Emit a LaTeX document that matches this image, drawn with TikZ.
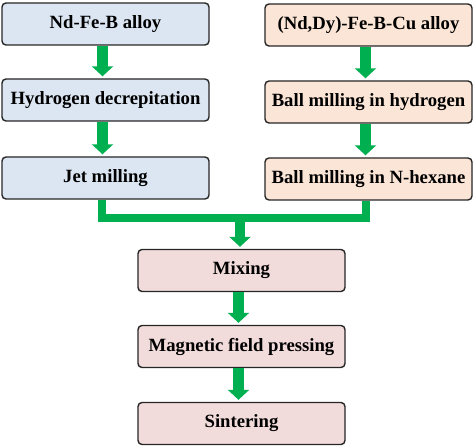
\documentclass[tikz,border=0pt]{standalone}
\usepackage{fontspec}
\setmainfont{Liberation Serif}
\usetikzlibrary{arrows.meta}
\definecolor{boxblue}{HTML}{DCE6F2}
\definecolor{boxpeach}{HTML}{FBE5D6}
\definecolor{boxpink}{HTML}{F2DCDB}
\definecolor{flowgreen}{HTML}{00B050}
\tikzset{
  stepbox/.style={draw=black!85,line width=1.4pt,rounded corners=4pt,minimum width=207pt,minimum height=42pt,inner sep=0pt,font=\fontsize{18.7}{20}\selectfont\bfseries},
  flowarrow/.style={draw=flowgreen,line width=10.5pt,-{Triangle[width=21pt,length=10pt]},shorten >=2pt},
  mergeline/.style={draw=flowgreen,line width=8pt,miter limit=10}
}
\begin{document}
\begin{tikzpicture}[x=1pt,y=-1pt]
\useasboundingbox (0,0) rectangle (474,446);

\node[stepbox,fill=boxblue] (ndfeb) at (105.5,24) {Nd-Fe-B alloy};
\node[stepbox,fill=boxblue] (hd) at (105.5,100) {Hydrogen decrepitation};
\node[stepbox,fill=boxblue] (jet) at (105.5,178) {Jet milling};

\node[stepbox,fill=boxpeach] (ndcu) at (368.5,25) {(Nd,Dy)-Fe-B-Cu alloy};
\node[stepbox,fill=boxpeach] (ballh) at (368.5,102) {Ball milling in hydrogen};
\node[stepbox,fill=boxpeach] (ballhex) at (368.5,179) {Ball milling in N-hexane};

\node[stepbox,fill=boxpink] (mix) at (241.5,270.5) {Mixing};
\node[stepbox,fill=boxpink] (press) at (241.5,346.5) {Magnetic field pressing};
\node[stepbox,fill=boxpink] (sinter) at (241.5,423.5) {Sintering};

\foreach \a/\b in {ndfeb/hd,hd/jet,ndcu/ballh,ballh/ballhex,mix/press,press/sinter}
  \draw[flowarrow] ([xshift=-3pt]\a.south) -- ([xshift=-3pt]\b.north);

% merging the two routes
\coordinate (merge) at (240,218.5);
\draw[mergeline] ([xshift=-4pt]jet.south) |- (merge) -| ([xshift=-2.5pt]ballhex.south);
\draw[flowarrow] ([yshift=-4pt]merge) -- ([xshift=-1.5pt]mix.north);
\end{tikzpicture}
\end{document}
